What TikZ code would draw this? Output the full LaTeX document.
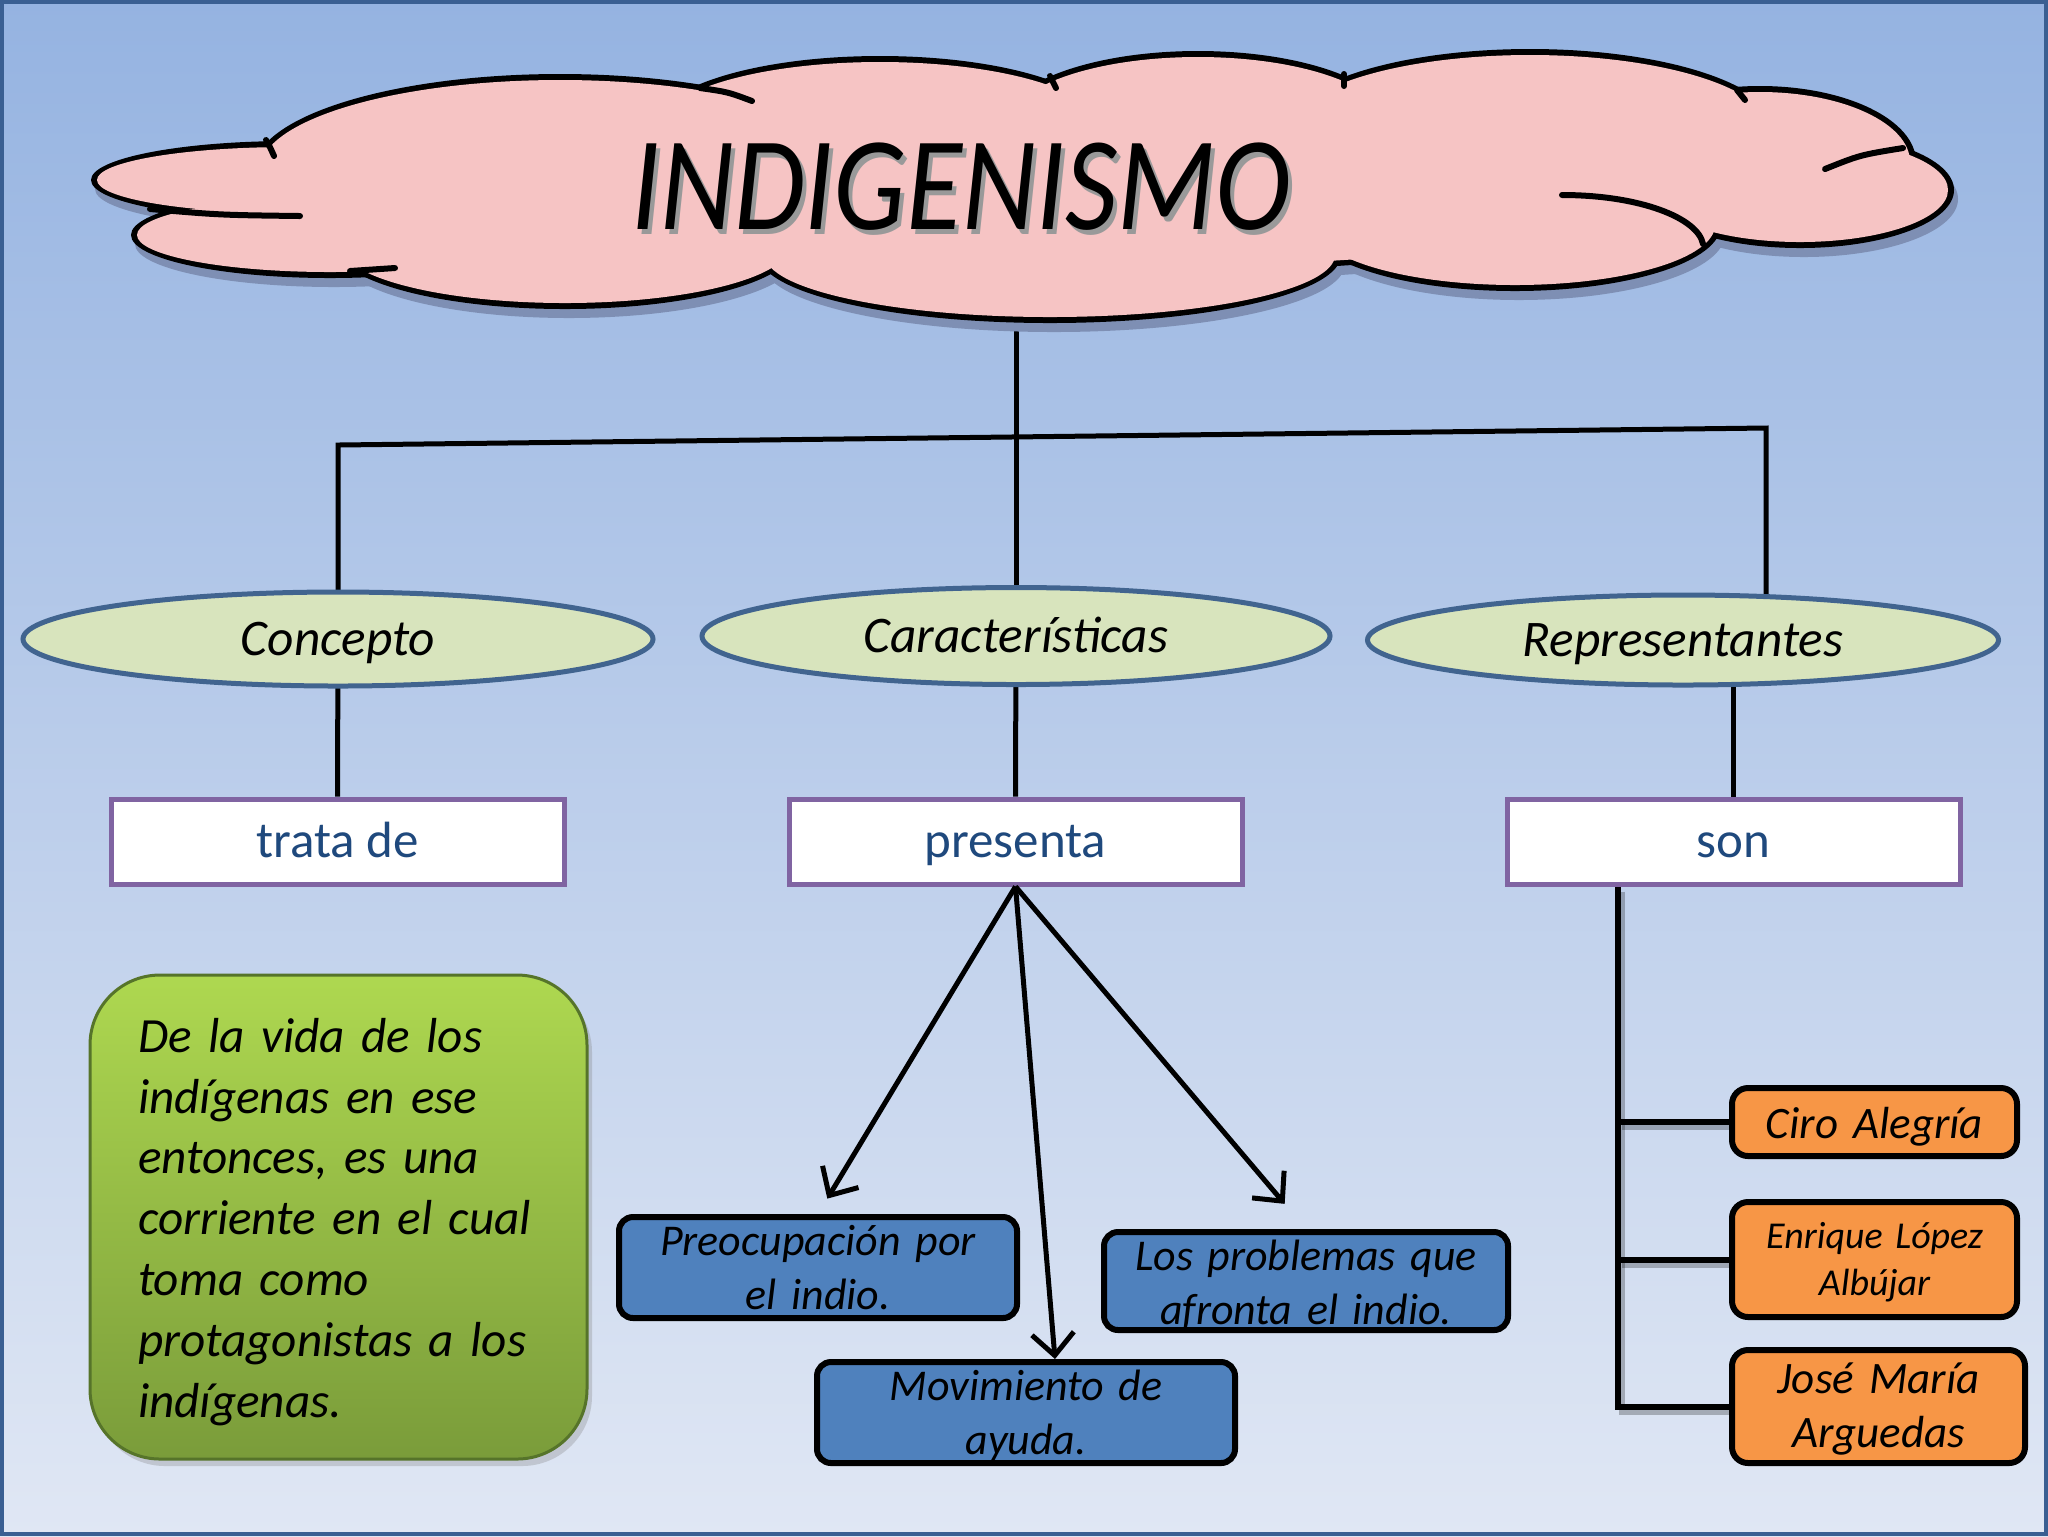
\documentclass[tikz,border=0pt]{standalone}
\usepackage{fontspec}
\usepackage{graphicx}
\setmainfont{Carlito}
\usetikzlibrary{shapes.geometric,arrows.meta,calc,shadows}
\newdimen\px \px=0.1mm
\definecolor{bgtop}{HTML}{95B3E1}
\definecolor{bgmid}{HTML}{BDCDEC}
\definecolor{bgbot}{HTML}{E0E7F4}
\definecolor{framec}{HTML}{3A5F92}
\definecolor{cloudpink}{HTML}{F6C4C4}
\definecolor{cloudshadow}{HTML}{7E8FB4}
\definecolor{ellfill}{HTML}{D8E4BD}
\definecolor{ellline}{HTML}{41648F}
\definecolor{rectline}{HTML}{8064A2}
\definecolor{recttext}{HTML}{1F497D}
\definecolor{bluebox}{HTML}{4F81BD}
\definecolor{orangebox}{HTML}{F79646}
\definecolor{greentop}{HTML}{AED850}
\definecolor{greenbot}{HTML}{7A9C3A}
\definecolor{greenline}{HTML}{56742A}
\pgfdeclarelayer{back}
\pgfdeclarelayer{bg}
\pgfsetlayers{back,bg,main}
\tikzset{
  conn/.style={draw=black, line width=5\px},
  connshadow/.style={draw=black, opacity=0.25, line width=6\px},
  arr/.style={conn, -{Straight Barb[length=2.2mm,width=4.2mm]}},
  ell/.style={ellipse, draw=ellline, line width=5\px, fill=ellfill, inner sep=0pt,
    text height=40\px, text depth=8\px,
    font=\fontsize{14.6pt}{16pt}\selectfont\itshape},
  verbbox/.style={rectangle, draw=rectline, line width=5\px, fill=white,
    minimum width=453\px, minimum height=85\px, inner sep=0pt, text=recttext,
    text height=40\px, text depth=8\px,
    font=\fontsize{14.5pt}{17pt}\selectfont},
  bbox/.style={rectangle, rounded corners=14\px, draw=black, line width=6\px, fill=bluebox,
    inner sep=0pt, align=center, text height=38\px, text depth=63\px,
    font=\fontsize{12.5pt}{15.6pt}\selectfont\itshape},
  obox/.style={rectangle, rounded corners=16\px, draw=black, line width=6\px, fill=orangebox,
    inner sep=0pt, align=center, text width=285\px},
  gbox/.style={rectangle, rounded corners=70\px, draw=greenline, line width=3\px,
    top color=greentop, bottom color=greenbot, inner xsep=48\px, inner ysep=0pt,
    text width=401\px, align=left, text height=77\px, text depth=407\px,
    drop shadow={shadow xshift=5\px, shadow yshift=-7\px, opacity=0.3},
    font=\fontsize{14pt}{17.35pt}\selectfont\itshape},
  cloudarc/.style={draw=black, line width=6\px, line cap=round}
}
\begin{document}
\begin{tikzpicture}[x=0.1mm, y=-0.1mm]
\useasboundingbox (0,0) rectangle (2048,1536);
\begin{pgfonlayer}{back}
  \shade[top color=bgtop, middle color=bgmid, bottom color=bgbot] (0,0) rectangle (2048,1536);
\end{pgfonlayer}

% ---------- cloud ----------
\def\lobes{560/170/300/90, 880/127/220/65, 1198/125/190/68, 1530/130/240/75, 1760/162/150/70, 1800/190/148/52, 1515/225/200/60, 1050/255/285/62, 565/245/225/58, 330/235/193/37, 290/180/193/33, 1000/180/750/90}
\foreach \a/\b/\c/\d in \lobes {
  \fill[cloudshadow] (\a+4,\b+9) ellipse [x radius=\c+6, y radius=\d+6];
}
\foreach \a/\b/\c/\d in \lobes {
  \fill[black] (\a,\b) ellipse [x radius=\c+6, y radius=\d+6];
}
\foreach \a/\b/\c/\d in \lobes {
  \fill[cloudpink] (\a,\b) ellipse [x radius=\c, y radius=\d];
}
\draw[cloudarc] (150,209) .. controls (220,215) .. (300,216);
\draw[cloudarc] (266,140) .. controls (270,147) .. (274,156);
\draw[cloudarc] (350,271) -- (395,268);
\draw[cloudarc] (700,88) .. controls (728,92) .. (752,101);
\draw[cloudarc] (1050,76) -- (1056,88);
\draw[cloudarc] (1344,74) -- (1344,86);
\draw[cloudarc] (1737,90) -- (1745,100);
\draw[cloudarc] (1562,195) .. controls (1640,195) and (1698,218) .. (1703,244);
\draw[cloudarc] (1825,169) .. controls (1860,155) .. (1903,148);

\node[anchor=base, text=black!40, font=\fontsize{38pt}{40pt}\selectfont\itshape] (titleshadow) at (965,234) {\scalebox{0.86}[1]{INDIGENISMO}};
\node[anchor=base, text=black, font=\fontsize{38pt}{40pt}\selectfont\itshape] (title) at (961,229) {\scalebox{0.86}[1]{INDIGENISMO}};
\coordinate (cloudbot) at (1016,316);

% ---------- level 1 ----------
\node[ell, minimum width=630\px, minimum height=94\px] (conc) at (338,639) {Concepto};
\node[ell, minimum width=628\px, minimum height=97\px] (car) at (1016,636) {Características};
\node[ell, minimum width=631\px, minimum height=90\px] (rep) at (1683,640) {Representantes};
\coordinate (hl) at (338,445);
\coordinate (hr) at (1766,428);

% ---------- level 2 ----------
\node[verbbox] (trata) at (337.5,841.5) {trata de};
\node[verbbox] (pres) at (1015.5,841.5) {presenta};
\node[verbbox] (son) at (1733.5,841.5) {son};

% ---------- description ----------
\node[gbox] (desc) at (338.5,1217) {\mbox{De la vida de los}\\\mbox{indígenas en ese}\\\mbox{entonces, es una}\\\mbox{corriente en el cual}\\\mbox{toma como}\\\mbox{protagonistas a los}\\\mbox{indígenas.}};

% ---------- características ----------
\node[bbox, text width=398\px] (preo) at (818,1267.5) {Preocupación por\\el indio.};
\node[bbox, text width=418\px] (mov) at (1026,1412.5) {Movimiento de\\ayuda.};
\node[bbox, text width=404\px, text depth=60\px] (prob) at (1306,1281) {Los problemas que\\afronta el indio.};

% ---------- representantes ----------
\node[obox, text height=50\px, text depth=18\px, font=\fontsize{12.8pt}{15.6pt}\selectfont\itshape] (ciro) at (1874.5,1122) {Ciro Alegría};
\node[obox, text height=46\px, text depth=69\px, font=\fontsize{10.8pt}{13.6pt}\selectfont\itshape] (enr) at (1874.5,1259.5) {Enrique López\\Albújar};
\node[obox, text width=293\px, text height=43\px, text depth=70\px, font=\fontsize{12.8pt}{15.6pt}\selectfont\itshape] (jose) at (1878.5,1406.5) {José María\\Arguedas};
\coordinate (trunk) at ([xshift=113\px]son.south west);

% ---------- connectors ----------
\begin{pgfonlayer}{bg}
  \draw[connshadow, transform canvas={shift={(4\px,-5\px)}}] (trunk) |- (jose.west);
  \draw[connshadow, transform canvas={shift={(4\px,-5\px)}}] (trunk |- ciro.west) -- (ciro.west);
  \draw[connshadow, transform canvas={shift={(4\px,-5\px)}}] (trunk |- enr.west) -- (enr.west);
  \draw[conn] (cloudbot) -- (car.north);
  \draw[conn] (conc.center) -- (hl) -- (hr) -- (hr |- rep.center);
  \draw[conn] (conc.center) -- (trata.north);
  \draw[conn] (car.center) -- (pres.north);
  \draw[conn] (son.north) -- (son.north |- rep.center);
  \draw[conn, line width=6\px] (trunk) |- (jose.west);
  \draw[conn, line width=6\px] (trunk |- ciro.west) -- (ciro.west);
  \draw[conn, line width=6\px] (trunk |- enr.west) -- (enr.west);
\end{pgfonlayer}
\draw[arr, shorten >=18\px] (pres.south) -- (preo.north);
\draw[arr] (pres.south) -- ([xshift=29\px]mov.north);
\draw[arr, shorten >=33\px] (pres.south) -- (prob.north);

\draw[draw=framec, line width=4\px] (2,2) rectangle (2046,1534);
\end{tikzpicture}
\end{document}
